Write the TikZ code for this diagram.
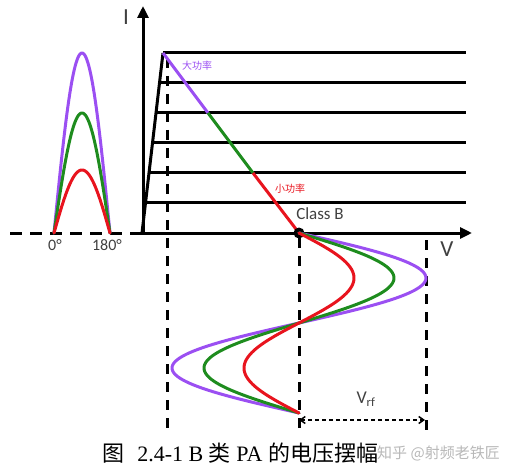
\documentclass[tikz,border=0pt]{standalone}
\usepackage{fontspec}
\setmainfont{Liberation Serif}
\setsansfont{Carlito}
\newfontfamily\cjk{Noto Sans CJK SC}
\usetikzlibrary{arrows.meta}
\definecolor{pviolet}{HTML}{9B4FF2}
\definecolor{pgreen}{HTML}{1E8C1E}
\definecolor{pred}{HTML}{E8141E}
\definecolor{lbl}{HTML}{404040}
\begin{document}
\begin{tikzpicture}[x=1pt,y=-1pt,
  axis/.style={line width=3pt,-{Triangle[length=12pt,width=11pt]}},
  satline/.style={line width=3pt},
  vdash/.style={line width=3pt,dash pattern=on 10pt off 8pt},
  hdash/.style={line width=3pt,dash pattern=on 12pt off 8pt},
  wave/.style={line width=3pt,line cap=round},
  lab/.style={font=\sffamily,text=lbl,inner sep=0pt},
  cn/.style={font=\cjk\fontsize{10}{12}\selectfont,inner sep=0pt}]
\useasboundingbox (0,0) rectangle (509,476);
% coordinates
\coordinate (O) at (143,233);
\coordinate (Ytop) at (143,6);
\coordinate (Xend) at (472,233);
\coordinate (Lend) at (10,233);
\coordinate (K0) at (142,233);
\coordinate (K6) at (163,53);
\coordinate (Q) at (299,233);
\coordinate (LG) at (208,113);
\coordinate (LR) at (253,173);
% left dashed axis
\draw[hdash] (Lend) -- (O);
% knee line and saturation lines
\draw[satline] (K0) -- (K6);
\foreach \y/\x in {203/145.5,173/149,143/152.5,113/156,83/159.5,53/163}
  \draw[satline] (\x,\y) -- (466,\y);
% axes
\draw[axis] (O) -- (Ytop);
\draw[axis] (141.5,233) -- (Xend);
% vertical dashed lines
\coordinate (D1t) at (167,58); \coordinate (D1b) at (167,431);
\coordinate (D2t) at (299,238); \coordinate (D2b) at (299,431);
\coordinate (D3t) at (426,240); \coordinate (D3b) at (426,431);
\draw[vdash] (D1t) -- (D1b);
\draw[vdash] (D2t) -- (D2b);
\draw[vdash] (D3t) -- (D3b);
% load line
\draw[wave,pviolet,line cap=butt] (K6) -- (LG);
\draw[wave,pgreen,line cap=butt] (LG) -- (LR);
\draw[wave,pred,line cap=butt] (LR) -- (Q);
% Q point
\fill (Q) circle (5.5pt);
% sine swings
\draw[wave,pviolet] plot[domain=0:180,samples=120,smooth] ({299+127*sin(2*\x)},{233+\x});
\draw[wave,pgreen] plot[domain=0:180,samples=120,smooth] ({299+95*sin(2*\x)},{233+\x});
\draw[wave,pred] plot[domain=0:180,samples=120,smooth] ({299+55*sin(2*\x)},{233+\x});
% half-sine currents
\draw[wave,pviolet] plot[domain=0:180,samples=90,smooth] ({54+56*\x/180},{233-180*sin(\x)});
\draw[wave,pgreen] plot[domain=0:180,samples=90,smooth] ({54+56*\x/180},{233-120*sin(\x)});
\draw[wave,pred] plot[domain=0:180,samples=90,smooth] ({54+56*\x/180},{233-63*sin(\x)});
% Vrf arrow
\coordinate (A1) at (299,420); \coordinate (A2) at (425,420);
\draw[line width=1.5pt,dash pattern=on 4pt off 3pt,{Straight Barb[length=5pt,width=7pt]}-{Straight Barb[length=5pt,width=7pt]}] (A1) -- (A2);
% labels
\node[lab,font=\sffamily\fontsize{23}{26}\selectfont] (lI) at (126,17) {I};
\node[lab,font=\sffamily\fontsize{23}{26}\selectfont] (lV) at (447,249) {V};
\node[lab,font=\sffamily\fontsize{17}{20}\selectfont] (lCB) at (320,214) {Class B};
\node[lab,font=\sffamily\fontsize{16}{19}\selectfont] (l0) at (55,245) {0°};
\node[lab,font=\sffamily\fontsize{16}{19}\selectfont] (l180) at (107,245) {180°};
\node[lab,font=\sffamily\fontsize{18}{21}\selectfont] (lVrf) at (366,399) {V\textsubscript{rf}};
\node[cn,text=pviolet] (lbig) at (197,66) {大功率};
\node[cn,text=pred] (lsmall) at (290,189) {小功率};
% caption
\node[anchor=west,inner sep=0pt,font=\fontsize{22}{25}\selectfont] (cap) at (102,453)
  {{\cjk 图}\hspace{0.6em}2.4-1 B {\cjk 类} PA {\cjk 的电压摆幅}};
\node[anchor=west,inner sep=0pt,text=black!28,font=\cjk\fontsize{15}{18}\selectfont] (wm) at (377,453) {知乎 @射频老铁匠};
\end{tikzpicture}
\end{document}
